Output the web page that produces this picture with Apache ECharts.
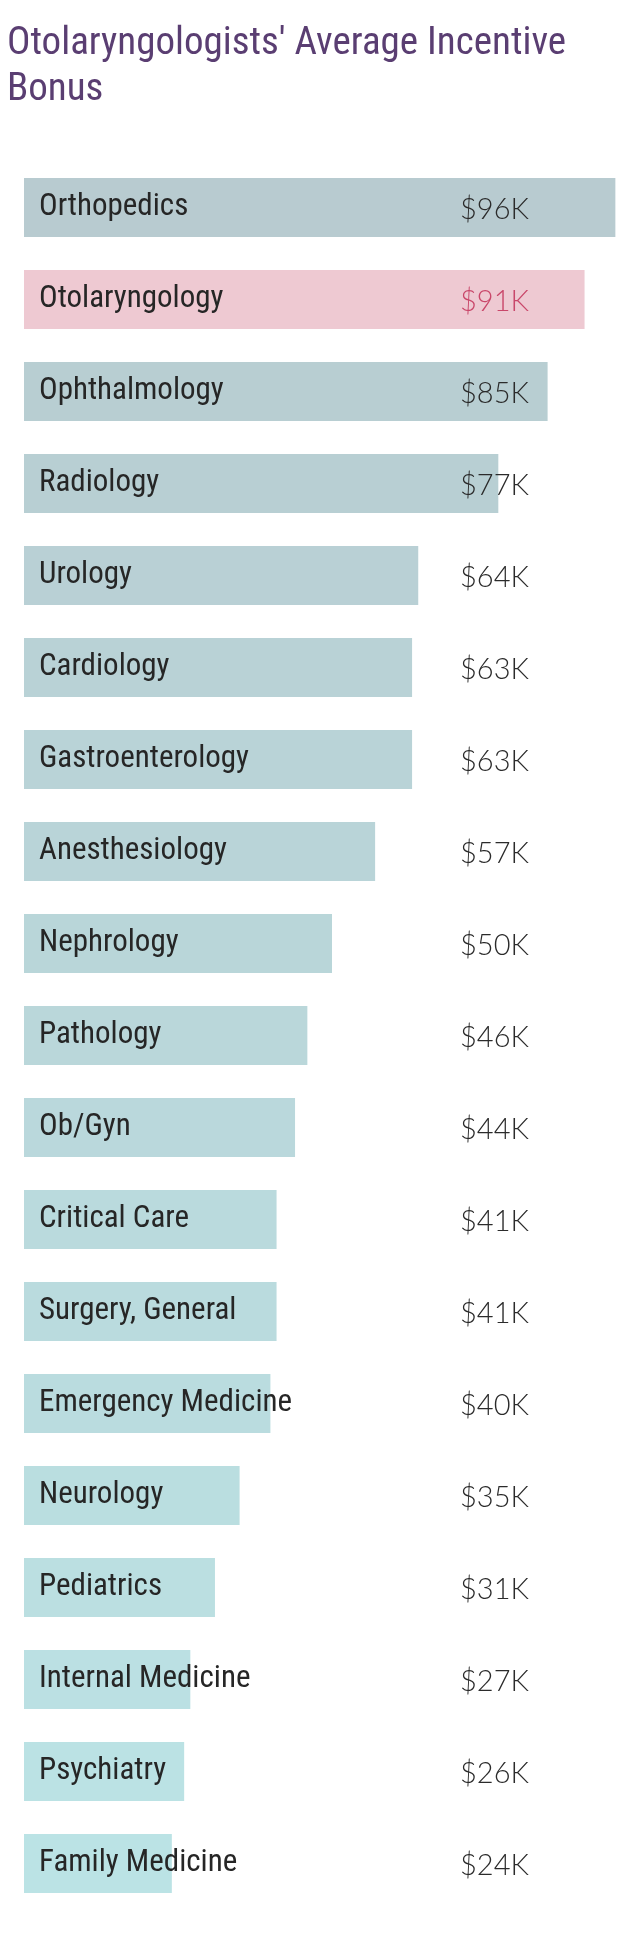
<!DOCTYPE html>
<html><head><meta charset="utf-8">
<script src="https://cdn.jsdelivr.net/npm/echarts@6/dist/echarts.min.js"></script>
<style>html,body{margin:0;padding:0;background:#fff}#c{width:640px;height:1953px}</style>
</head><body><div id="c"></div>
<script>
const categories = ["Orthopedics","Otolaryngology","Ophthalmology","Radiology","Urology","Cardiology","Gastroenterology","Anesthesiology","Nephrology","Pathology","Ob/Gyn","Critical Care","Surgery, General","Emergency Medicine","Neurology","Pediatrics","Internal Medicine","Psychiatry","Family Medicine"];
const values = [96,91,85,77,64,63,63,57,50,46,44,41,41,40,35,31,27,26,24];
const valueLabels = ["$96K","$91K","$85K","$77K","$64K","$63K","$63K","$57K","$50K","$46K","$44K","$41K","$41K","$40K","$35K","$31K","$27K","$26K","$24K"];
const highlightIndex = 1;
const barColors = ["#b8cbd0","#eec9d2","#b8ced2","#b8cfd3","#b9d0d5","#b9d2d6","#b9d3d7","#b9d4d8","#b9d6d9","#bad7da","#bad8dc","#badadd","#badbde","#badcdf","#badee0","#bbdfe1","#bbe0e3","#bbe2e4","#bbe3e5"];

const chart = echarts.init(document.getElementById('c'), null, {renderer:'canvas'});
chart.setOption({
  animation:false,
  backgroundColor:'#ffffff',
  title:{
    text:"Otolaryngologists' Average Incentive\nBonus",
    left:2, top:16,
    textStyle:{fontFamily:"'Roboto Condensed', Roboto, sans-serif", fontSize:39, fontWeight:'normal', color:'#5a3e72', lineHeight:46}
  },
  grid:{left:24, right:0, top:161.5, height:1748},
  xAxis:{type:'value', min:0, max:100, show:false},
  yAxis:{type:'category', data:categories, inverse:true, show:false},
  series:[
    {
      type:'bar', barWidth:59,
      data: values.map((v,i)=>({value:v, itemStyle:{color:barColors[i]}})),
      label:{show:true, position:[15,'50%'], align:'left', verticalAlign:'middle', offset:[0,0],
        formatter:p=>categories[p.dataIndex],
        fontFamily:"'Roboto Condensed', Roboto, sans-serif", fontSize:31, color:'#262626'}
    },
    {
      type:'bar', barWidth:59, barGap:'-100%', silent:true, z:3,
      data: values.map((v,i)=>({value:v, label:{color: i===highlightIndex ? '#c9476a' : '#2b2b2b'}})),
      itemStyle:{color:'rgba(0,0,0,0)'},
      label:{show:true, position:[436,'50%'], align:'left', verticalAlign:'middle', offset:[0,2],
        formatter:p=>valueLabels[p.dataIndex],
        fontFamily:"Lato, sans-serif", fontWeight:300, fontSize:29, color:'#2b2b2b'}
    }
  ]
});
</script></body></html>
